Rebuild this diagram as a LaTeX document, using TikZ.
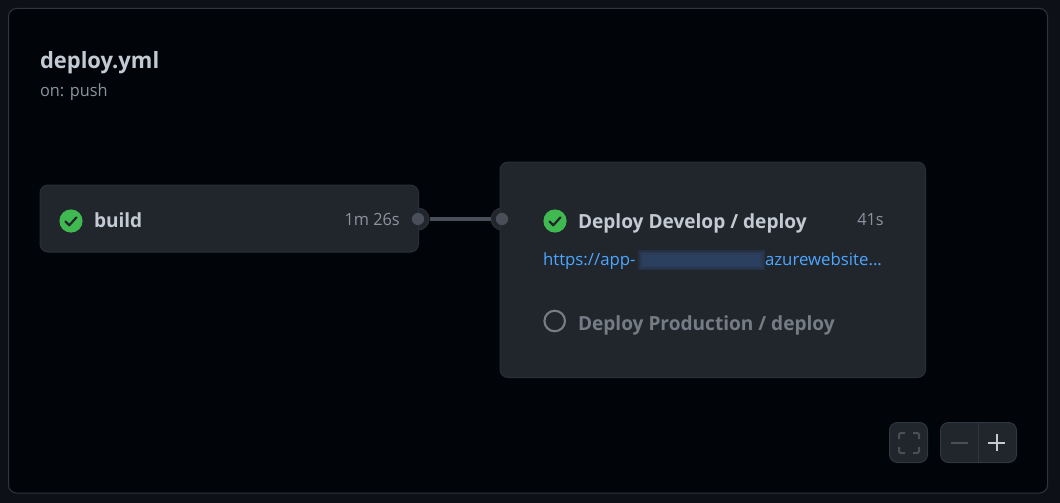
\documentclass[tikz,border=0pt]{standalone}
\usepackage{fontspec}
\setmainfont{Open Sans}
\newfontfamily\semib[BoldFeatures={FakeStretch=0.98}]{Open Sans}
\newfontfamily\narrowf[FakeStretch=0.97]{Open Sans}
\definecolor{pagebg}{HTML}{0D1117}
\definecolor{canvasbg}{HTML}{010409}
\definecolor{edgec}{HTML}{30363D}
\definecolor{softedge}{HTML}{2A2F37}
\definecolor{boxbg}{HTML}{21262D}
\definecolor{titlec}{HTML}{C2CAD3}
\definecolor{mutedc}{HTML}{8B949E}
\definecolor{dimc}{HTML}{747C86}
\definecolor{okc}{HTML}{3FB950}
\definecolor{linkc}{HTML}{4CA6FF}
\definecolor{blurc}{HTML}{2F4A70}
\definecolor{portc}{HTML}{484F58}
\definecolor{linec}{HTML}{484F58}
\tikzset{
  x=0.75pt,y=-0.75pt,
  txt/.style={anchor=base west,inner sep=0pt,outer sep=0pt},
  jobbox/.style={draw=softedge,line width=0.75pt,fill=boxbg,rounded corners=6pt},
  portring/.style={circle,draw=softedge,line width=0.75pt,fill=boxbg,minimum size=16.5pt,inner sep=0pt},
  portdot/.style={circle,fill=portc,minimum size=9.2pt,inner sep=0pt},
  okdisc/.style={circle,fill=okc,minimum size=17.4pt,inner sep=0pt},
  chk/.style={draw=boxbg,line width=1.6pt,line cap=round,line join=round},
  pending/.style={circle,draw=dimc,line width=1.6pt,minimum size=15.4pt,inner sep=0pt},
  ctl/.style={draw=edgec,line width=0.75pt,fill=boxbg,rounded corners=6pt},
  blurlayer/.style={fill=blurc,fill opacity=0.3},
}
\begin{document}
\begin{tikzpicture}
\useasboundingbox (0,0) rectangle (1060,503);
\fill[pagebg] (0,0) rectangle (1060,503);
\draw[edgec,fill=canvasbg,line width=0.75pt,rounded corners=6pt] (8.5,8.5) rectangle (1047.5,493);
\node[txt,text=titlec,font=\fontsize{16.8}{20}\semib\bfseries] (title) at (40,68.5) {deploy.yml};
\node[txt,text=mutedc,font=\fontsize{12.6}{15}\narrowf] (sub) at (40,96.5) {on: push};
% connector rings under boxes
\node[portring] (ringa) at (418,219) {};
\node[portring] (ringb) at (502,219) {};
\draw[jobbox] (40,185) rectangle (418.5,252);
\draw[jobbox] (500,162) rectangle (925.5,377.5);
\node[portdot] (porta) at (418,219) {};
\node[portdot] (portb) at (502,219) {};
\draw[linec,line width=2.4pt] (ringa.east) -- (ringb.west);
% build
\node[okdisc] (okbuild) at (71,221) {};
\draw[chk] (65.5,221.5) -- (69.3,225.3) -- (76.5,217.3);
\node[txt,text=titlec,font=\fontsize{14.6}{18}\semib\bfseries] (build) at (94,227.5) {build};
\node[anchor=base east,inner sep=0pt,text=mutedc,font=\fontsize{12.6}{15}\narrowf] (buildt) at (400,225) {1m 26s};
% deploy develop
\node[okdisc] (okdev) at (555,221) {};
\draw[chk] (549.5,221.5) -- (553.3,225.3) -- (560.5,217.3);
\node[txt,text=titlec,font=\fontsize{14.6}{18}\semib\bfseries] (dev) at (578,228) {Deploy Develop / deploy};
\node[anchor=base east,inner sep=0pt,text=mutedc,font=\fontsize{12.6}{15}\narrowf] (devt) at (884,225) {41s};
\node[txt,text=linkc,font=\fontsize{12.6}{15}\selectfont] (urla) at (543,265) {https://app-};
\fill[blurlayer] (638,250) rectangle (765,270);
\fill[blurlayer] (639.5,251.5) rectangle (763.5,268.5);
\fill[blurlayer] (641,253) rectangle (762,267);
\fill[blurlayer] (643,254.5) rectangle (760,265.5);
\node[txt,text=linkc,font=\fontsize{12.6}{15}\selectfont] (urlb) at (765,265) {azurewebsite...};
% deploy production
\node[pending] (pend) at (554.7,321) {};
\node[txt,text=dimc,font=\fontsize{14.6}{18}\semib\bfseries] (prod) at (578,330) {Deploy Production / deploy};
% controls
\draw[ctl] (889.5,422.5) rectangle (927.5,462.5);
\draw[ctl] (940.5,422.5) rectangle (1016.5,462.5);
\draw[edgec,line width=0.75pt] (978.3,422.5) -- (978.3,462.5);
\begin{scope}[portc,line width=1.5pt]
\draw[rounded corners=1.5pt] (899,439) -- (899,433) -- (905,433);
\draw[rounded corners=1.5pt] (913,433) -- (919,433) -- (919,439);
\draw[rounded corners=1.5pt] (899,447) -- (899,453) -- (905,453);
\draw[rounded corners=1.5pt] (913,453) -- (919,453) -- (919,447);
\draw (951,442.5) -- (968,442.5);
\end{scope}
\draw[titlec,line width=1.5pt] (988,442.5) -- (1005,442.5) (996.6,434) -- (996.6,451);
\end{tikzpicture}
\end{document}
